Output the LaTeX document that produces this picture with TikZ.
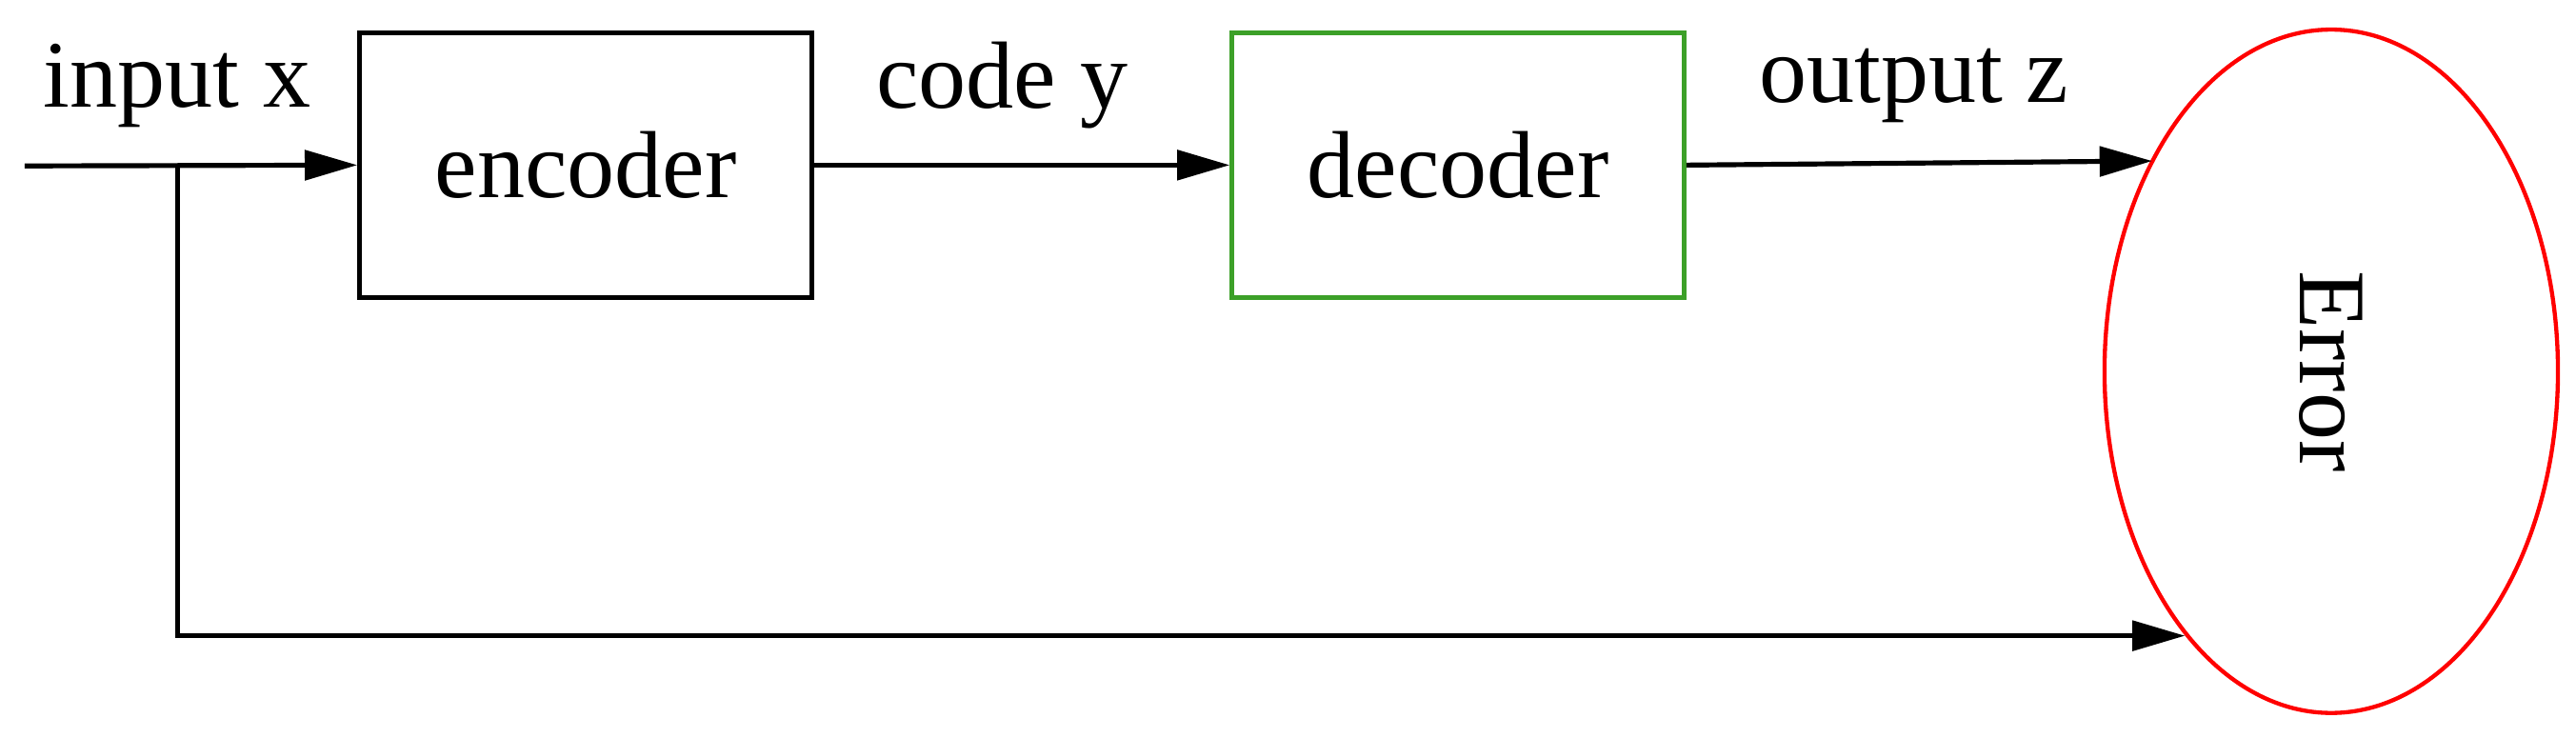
\documentclass[tikz,border=0pt]{standalone}
\usepackage{fontspec}
\setmainfont{Liberation Serif}
\usetikzlibrary{arrows.meta,shapes.geometric,calc}
\begin{document}
\begin{tikzpicture}[x=1pt,y=-1pt,
  blk/.style={draw,line width=3pt,minimum width=275pt,minimum height=161pt,inner sep=0pt,font=\fontsize{58}{68}\selectfont},
  lbl/.style={font=\fontsize{58}{68}\selectfont},
  conn/.style={line width=3pt,-{Triangle[length=32pt,width=18pt]}}]
\useasboundingbox (0,0) rectangle (1568,449);
\definecolor{gr}{RGB}{60,160,40}
\node[blk] (enc) at (356.5,100.5) {encoder};
\node[blk,draw=gr] (dec) at (887.5,100.5) {decoder};
\node[draw=red,line width=2.5pt,ellipse,minimum width=276pt,minimum height=416pt,inner sep=0pt] (err) at (1419,226) {};
\node[lbl,rotate=-90] (errt) at (err.center) {Error};
\coordinate (in) at (15,101);
\coordinate (br) at (108,101);
\coordinate (e1) at ($(err.center)+(-109,-128)$);
\coordinate (e2) at ($(err.center)+(-89,161)$);
\node[lbl] (lx) at (108,52) {input x};
\node[lbl] (ly) at (610,52) {code y};
\node[lbl] (lz) at (1165,52) {output z};
\draw[conn] (in) -- (enc.west);
\draw[conn] (enc.east) -- (dec.west);
\draw[conn] (dec.east) -- (e1);
\draw[conn] (br) |- (e2);
\end{tikzpicture}
\end{document}
